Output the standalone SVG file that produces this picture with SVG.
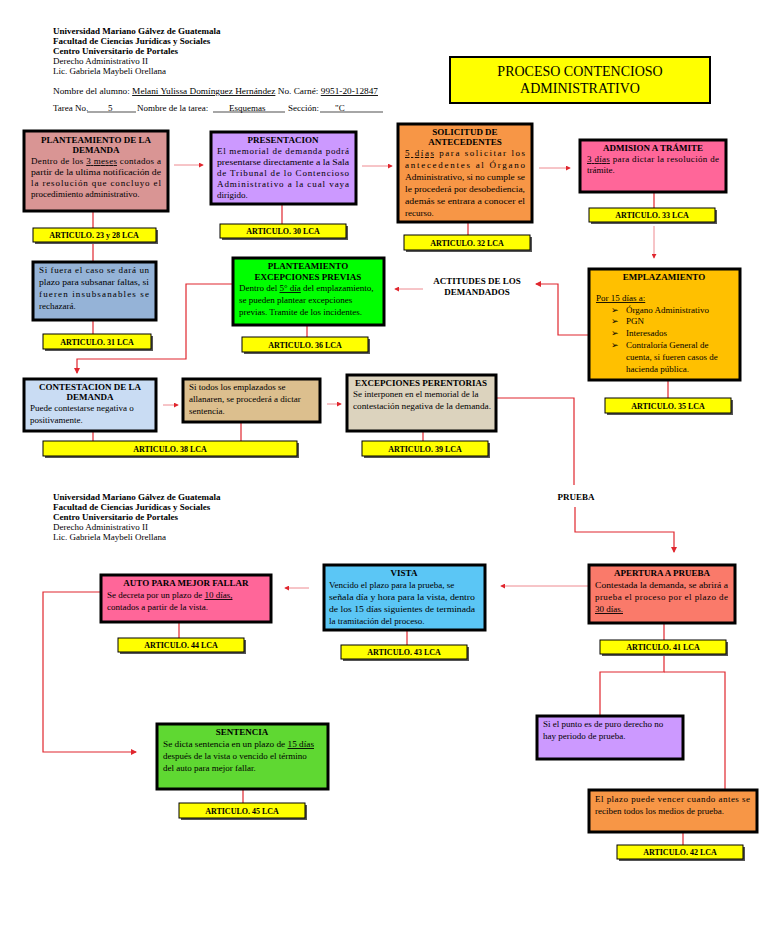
<svg xmlns="http://www.w3.org/2000/svg" width="768" height="932" viewBox="0 0 768 932">
<defs>
<marker id="ar" viewBox="0 0 6 6" refX="5" refY="3" markerWidth="5" markerHeight="5" orient="auto"><path d="M0,0L6,3L0,6z" fill="#e0262e"/></marker>
</defs>
<style>
text{font-family:"Liberation Serif","Times New Roman",serif;fill:#000}
.h{font-size:9px;font-weight:bold}
.n{font-size:9px}
.t{font-size:9px;font-weight:bold;text-anchor:middle}
.b{font-size:9px}
.u{text-decoration:underline}
.box{stroke:#000;stroke-width:3}
.art{fill:#ffff00;stroke:#000;stroke-width:1}
.sh{fill:#555}
.at{font-size:8px;font-weight:bold;text-anchor:middle}
.c{fill:none;stroke:#e0262e;stroke-width:1.2}
.cf{fill:none;stroke:#ee8a90;stroke-width:1}
</style>
<rect width="768" height="932" fill="#fff"/>
<g id="header1">
<text class="h" x="53" y="34">Universidad Mariano Gálvez de Guatemala</text>
<text class="h" x="53" y="44">Facultad de Ciencias Jurídicas y Sociales</text>
<text class="h" x="53" y="54">Centro Universitario de Portales</text>
<text class="n" x="53" y="64">Derecho Administrativo II</text>
<text class="n" x="53" y="74">Lic. Gabriela Maybeli Orellana</text>
<text class="n" x="53" y="94" textLength="325" lengthAdjust="spacingAndGlyphs">Nombre del alumno: <tspan class="u">Melani Yulissa Domínguez Hernández</tspan> No. Carné: <tspan class="u">9951-20-12847</tspan></text>
<text class="n" x="53" y="111">Tarea No.</text>
<line x1="87" y1="112" x2="136" y2="112" stroke="#000" stroke-width="0.7"/>
<text class="n" x="108" y="111">5</text>
<text class="n" x="137" y="111">Nombre de la tarea:</text>
<line x1="213" y1="112" x2="285" y2="112" stroke="#000" stroke-width="0.7"/>
<text class="n" x="229" y="111">Esquemas</text>
<text class="n" x="288" y="111">Sección:</text>
<line x1="320" y1="112" x2="383" y2="112" stroke="#000" stroke-width="0.7"/>
<text class="n" x="335" y="111">"C</text>
</g>
<g id="title">
<rect x="450" y="57" width="260" height="46" fill="#ffff00" stroke="#000" stroke-width="2"/>
<text x="580" y="76" font-size="14" text-anchor="middle">PROCESO CONTENCIOSO</text>
<text x="580" y="93" font-size="14" text-anchor="middle">ADMINISTRATIVO</text>
</g>
<g id="connectors">
<line class="cf" x1="174" y1="165" x2="203" y2="165" marker-end="url(#ar)"/>
<line class="cf" x1="362" y1="166" x2="392" y2="166" marker-end="url(#ar)"/>
<line class="cf" x1="539" y1="168" x2="570" y2="168" marker-end="url(#ar)"/>
<line class="c" x1="93" y1="212" x2="93" y2="262"/>
<line class="c" x1="282" y1="204" x2="282" y2="224"/>
<line class="c" x1="468" y1="222" x2="468" y2="235"/>
<line class="c" x1="654" y1="192" x2="654" y2="208"/>
<line class="cf" x1="654" y1="226" x2="654" y2="258" marker-end="url(#ar)"/>
<line class="c" x1="668" y1="380" x2="668" y2="398"/>
<polyline class="c" points="589,335 558,335 558,284 536,284" marker-end="url(#ar)"/>
<line class="cf" x1="423" y1="289" x2="395" y2="289" marker-end="url(#ar)"/>
<line class="c" x1="307" y1="325" x2="307" y2="337"/>
<line class="c" x1="93" y1="320" x2="93" y2="334"/>
<polyline class="c" points="233,284 186,284 186,359 77,359 77,373" marker-end="url(#ar)"/>
<line class="c" x1="93" y1="431" x2="93" y2="441"/>
<line class="c" x1="241" y1="422" x2="241" y2="441"/>
<line class="cf" x1="163" y1="405" x2="178" y2="405" marker-end="url(#ar)"/>
<line class="cf" x1="327" y1="404" x2="341" y2="404" marker-end="url(#ar)"/>
<line class="c" x1="423" y1="431" x2="423" y2="441"/>
<polyline class="c" points="496,398 574,398 574,485"/>
<polyline class="c" points="575,507 575,532 674,532 674,552" marker-end="url(#ar)"/>
<line class="c" x1="664" y1="623" x2="664" y2="640"/>
<polyline class="c" points="664,654 664,672 600,672 600,716"/>
<polyline class="c" points="664,672 725,672 725,790"/>
<line class="c" x1="683" y1="832" x2="683" y2="845"/>
<line class="cf" x1="589" y1="586" x2="501" y2="586" marker-end="url(#ar)"/>
<line class="c" x1="407" y1="630" x2="407" y2="645"/>
<line class="cf" x1="309" y1="588" x2="285" y2="588" marker-end="url(#ar)"/>
<line class="c" x1="179" y1="622" x2="179" y2="638"/>
<polyline class="c" points="101,592 43,592 43,752 136,752" marker-end="url(#ar)"/>
<line class="c" x1="243" y1="789" x2="243" y2="803"/>
</g>
<g id="planteamiento">
<rect class="box" x="24" y="131" width="144" height="80" fill="#d99594"/>
<text class="t" x="96" y="143">PLANTEAMIENTO DE LA</text>
<text class="t" x="96" y="153">DEMANDA</text>
<text class="b" x="31" y="164" textLength="130">Dentro de los <tspan class="u">3 meses</tspan> contados a</text>
<text class="b" x="31" y="175" textLength="130" lengthAdjust="spacingAndGlyphs">partir de la ultima notificación de</text>
<text class="b" x="31" y="186" textLength="130">la resolución que concluyo el</text>
<text class="b" x="31" y="197">procedimiento administrativo.</text>
</g>
<g id="art2328"><rect class="sh" x="35" y="230" width="123" height="14"/><rect class="art" x="33" y="228" width="123" height="14"/><text class="at" x="94" y="238">ARTICULO. 23 y 28 LCA</text></g>
<g id="presentacion">
<rect class="box" x="211" y="132" width="145" height="72" fill="#cc99ff"/>
<text class="t" x="283" y="143">PRESENTACION</text>
<text class="b" x="217" y="154" textLength="132">El memorial de demanda podrá</text>
<text class="b" x="217" y="165" textLength="132" lengthAdjust="spacingAndGlyphs">presentarse directamente a la Sala</text>
<text class="b" x="217" y="176" textLength="132">de Tribunal de lo Contencioso</text>
<text class="b" x="217" y="187" textLength="132">Administrativo a la cual vaya</text>
<text class="b" x="217" y="198">dirigido.</text>
</g>
<g id="art30"><rect class="sh" x="222" y="226" width="126" height="14"/><rect class="art" x="220" y="224" width="126" height="14"/><text class="at" x="283" y="234">ARTICULO. 30 LCA</text></g>
<g id="solicitud">
<rect class="box" x="398" y="124" width="134" height="98" fill="#f79646"/>
<text class="t" x="465" y="135">SOLICITUD DE</text>
<text class="t" x="465" y="145">ANTECEDENTES</text>
<text class="b" x="405" y="156" textLength="120"><tspan class="u">5 días</tspan> para solicitar los</text>
<text class="b" x="405" y="168" textLength="120">antecedentes al Órgano</text>
<text class="b" x="405" y="180" textLength="120" lengthAdjust="spacingAndGlyphs">Administrativo, si no cumple se</text>
<text class="b" x="405" y="192" textLength="120" lengthAdjust="spacingAndGlyphs">le procederá por desobediencia,</text>
<text class="b" x="405" y="204" textLength="120" lengthAdjust="spacingAndGlyphs">además se entrara a conocer el</text>
<text class="b" x="405" y="216">recurso.</text>
</g>
<g id="art32"><rect class="sh" x="406" y="237" width="126" height="15"/><rect class="art" x="404" y="235" width="126" height="15"/><text class="at" x="467" y="246">ARTICULO. 32 LCA</text></g>
<g id="admision">
<rect class="box" x="580" y="140" width="146" height="52" fill="#ff6699"/>
<text class="t" x="653" y="151">ADMISION A TRÁMITE</text>
<text class="b" x="587" y="162" textLength="132"><tspan class="u">3 días</tspan> para dictar la resolución de</text>
<text class="b" x="587" y="173">trámite.</text>
</g>
<g id="art33"><rect class="sh" x="591" y="210" width="126" height="14"/><rect class="art" x="589" y="208" width="126" height="14"/><text class="at" x="652" y="218">ARTICULO. 33 LCA</text></g>
<g id="emplazamiento">
<rect class="box" x="589" y="269" width="151" height="111" fill="#ffc000"/>
<text class="t" x="664" y="280">EMPLAZAMIENTO</text>
<text class="b" x="596" y="301"><tspan class="u">Por 15 días a:</tspan></text>
<text class="b" x="611" y="313">➢</text><text class="b" x="626" y="313">Órgano Administrativo</text>
<text class="b" x="611" y="324">➢</text><text class="b" x="626" y="324">PGN</text>
<text class="b" x="611" y="336">➢</text><text class="b" x="626" y="336">Interesados</text>
<text class="b" x="611" y="348">➢</text><text class="b" x="626" y="348">Contraloría General de</text>
<text class="b" x="626" y="360">cuenta, si fueren casos de</text>
<text class="b" x="626" y="372">hacienda pública.</text>
</g>
<g id="art35"><rect class="sh" x="607" y="400" width="126" height="15"/><rect class="art" x="605" y="398" width="126" height="15"/><text class="at" x="668" y="409">ARTICULO. 35 LCA</text></g>
<g id="actitudes">
<text class="t" x="477" y="284">ACTITUDES DE LOS</text>
<text class="t" x="477" y="295">DEMANDADOS</text>
</g>
<g id="excepciones-previas">
<rect class="box" x="233" y="258" width="151" height="67" fill="#00ff00"/>
<text class="t" x="308" y="269">PLANTEAMIENTO</text>
<text class="t" x="308" y="280">EXCEPCIONES PREVIAS</text>
<text class="b" x="239" y="291">Dentro del <tspan class="u">5° día</tspan> del emplazamiento,</text>
<text class="b" x="239" y="303">se pueden plantear excepciones</text>
<text class="b" x="239" y="315">previas. Tramite de los incidentes.</text>
</g>
<g id="art36"><rect class="sh" x="244" y="339" width="126" height="15"/><rect class="art" x="242" y="337" width="126" height="15"/><text class="at" x="305" y="348">ARTICULO. 36 LCA</text></g>
<g id="subsanar">
<rect class="box" x="33" y="262" width="123" height="58" fill="#95b3d7"/>
<text class="b" x="39" y="273" textLength="110">Si fuera el caso se dará un</text>
<text class="b" x="39" y="285" textLength="110" lengthAdjust="spacingAndGlyphs">plazo para subsanar faltas, si</text>
<text class="b" x="39" y="297" textLength="110">fueren insubsanables se</text>
<text class="b" x="39" y="309">rechazará.</text>
</g>
<g id="art31"><rect class="sh" x="45" y="336" width="108" height="15"/><rect class="art" x="43" y="334" width="108" height="15"/><text class="at" x="97" y="345">ARTICULO. 31 LCA</text></g>
<g id="contestacion">
<rect class="box" x="24" y="379" width="132" height="52" fill="#c9dcf3"/>
<text class="t" x="90" y="390">CONTESTACION DE LA</text>
<text class="t" x="90" y="400">DEMANDA</text>
<text class="b" x="30" y="411">Puede contestarse negativa o</text>
<text class="b" x="30" y="423">positivamente.</text>
</g>
<g id="allanaren">
<rect class="box" x="183" y="379" width="137" height="43" fill="#dcbf8e"/>
<text class="b" x="189" y="390">Si todos los emplazados se</text>
<text class="b" x="189" y="402">allanaren, se procederá a dictar</text>
<text class="b" x="189" y="414">sentencia.</text>
</g>
<g id="art38"><rect class="sh" x="45" y="443" width="254" height="15"/><rect class="art" x="43" y="441" width="254" height="15"/><text class="at" x="170" y="452">ARTICULO. 38 LCA</text></g>
<g id="perentorias">
<rect class="box" x="347" y="375" width="149" height="56" fill="#dcd3be"/>
<text class="t" x="421" y="386">EXCEPCIONES PERENTORIAS</text>
<text class="b" x="353" y="397">Se interponen en el memorial de la</text>
<text class="b" x="353" y="409" textLength="138" lengthAdjust="spacingAndGlyphs">contestación negativa de la demanda.</text>
</g>
<g id="art39"><rect class="sh" x="364" y="443" width="126" height="15"/><rect class="art" x="362" y="441" width="126" height="15"/><text class="at" x="425" y="452">ARTICULO. 39 LCA</text></g>
<g id="header2">
<text class="h" x="53" y="500">Universidad Mariano Gálvez de Guatemala</text>
<text class="h" x="53" y="510">Facultad de Ciencias Jurídicas y Sociales</text>
<text class="h" x="53" y="520">Centro Universitario de Portales</text>
<text class="n" x="53" y="530">Derecho Administrativo II</text>
<text class="n" x="53" y="540">Lic. Gabriela Maybeli Orellana</text>
</g>
<g id="prueba"><text class="t" x="576" y="500">PRUEBA</text></g>
<g id="apertura">
<rect class="box" x="589" y="565" width="146" height="58" fill="#fa7a6a"/>
<text class="t" x="662" y="576">APERTURA A PRUEBA</text>
<text class="b" x="595" y="588" textLength="133" lengthAdjust="spacingAndGlyphs">Contestada la demanda, se abrirá a</text>
<text class="b" x="595" y="600" textLength="133">prueba el proceso por el plazo de</text>
<text class="b" x="595" y="612"><tspan class="u">30 días.</tspan></text>
</g>
<g id="art41"><rect class="sh" x="602" y="642" width="126" height="14"/><rect class="art" x="600" y="640" width="126" height="14"/><text class="at" x="663" y="650">ARTICULO. 41 LCA</text></g>
<g id="puro-derecho">
<rect class="box" x="537" y="716" width="146" height="43" fill="#cc99ff"/>
<text class="b" x="543" y="727">Si el punto es de puro derecho no</text>
<text class="b" x="543" y="739">hay periodo de prueba.</text>
</g>
<g id="vencer">
<rect class="box" x="589" y="790" width="168" height="42" fill="#f79646"/>
<text class="b" x="595" y="802" textLength="155">El plazo puede vencer cuando antes se</text>
<text class="b" x="595" y="814">reciben todos los medios de prueba.</text>
</g>
<g id="art42"><rect class="sh" x="619" y="847" width="126" height="14"/><rect class="art" x="617" y="845" width="126" height="14"/><text class="at" x="680" y="855">ARTICULO. 42 LCA</text></g>
<g id="vista">
<rect class="box" x="324" y="565" width="161" height="65" fill="#5bc6f5"/>
<text class="t" x="404" y="576">VISTA</text>
<text class="b" x="329" y="588">Vencido el plazo para la prueba, se</text>
<text class="b" x="329" y="600" textLength="146" lengthAdjust="spacingAndGlyphs">señala día y hora para la vista, dentro</text>
<text class="b" x="329" y="612" textLength="146" lengthAdjust="spacingAndGlyphs">de los 15 días siguientes de terminada</text>
<text class="b" x="329" y="624">la tramitación del proceso.</text>
</g>
<g id="art43"><rect class="sh" x="343" y="647" width="126" height="14"/><rect class="art" x="341" y="645" width="126" height="14"/><text class="at" x="404" y="655">ARTICULO. 43 LCA</text></g>
<g id="auto">
<rect class="box" x="101" y="575" width="170" height="47" fill="#ff6699"/>
<text class="t" x="186" y="586">AUTO PARA MEJOR FALLAR</text>
<text class="b" x="107" y="598">Se decreta por un plazo de <tspan class="u">10 días,</tspan></text>
<text class="b" x="107" y="610">contados a partir de la vista.</text>
</g>
<g id="art44"><rect class="sh" x="120" y="640" width="126" height="14"/><rect class="art" x="118" y="638" width="126" height="14"/><text class="at" x="181" y="648">ARTICULO. 44 LCA</text></g>
<g id="sentencia">
<rect class="box" x="157" y="724" width="171" height="65" fill="#5fd832"/>
<text class="t" x="242" y="735">SENTENCIA</text>
<text class="b" x="163" y="747" textLength="151" lengthAdjust="spacingAndGlyphs">Se dicta sentencia en un plazo de <tspan class="u">15 días</tspan></text>
<text class="b" x="163" y="759">después de la vista o vencido el término</text>
<text class="b" x="163" y="771">del auto para mejor fallar.</text>
</g>
<g id="art45"><rect class="sh" x="181" y="805" width="126" height="15"/><rect class="art" x="179" y="803" width="126" height="15"/><text class="at" x="242" y="814">ARTICULO. 45 LCA</text></g>
</svg>
